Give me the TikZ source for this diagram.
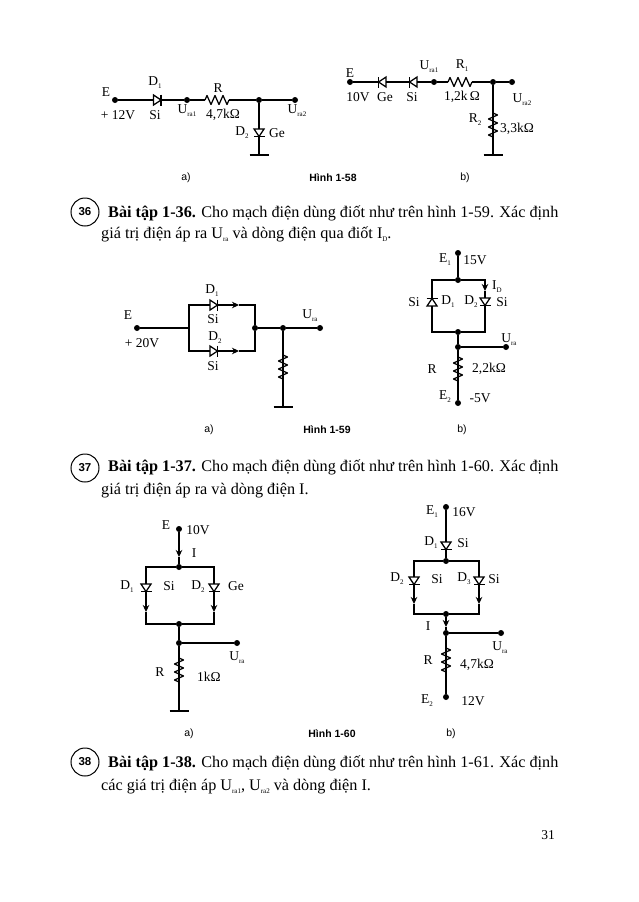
\documentclass[tikz,border=0pt]{standalone}
\usepackage{fontspec}
\setmainfont{Liberation Serif}
\setsansfont{Liberation Sans}
\usetikzlibrary{arrows.meta}
\newcommand{\sbs}[1]{\raisebox{-3pt}{\fontsize{7}{8}\selectfont #1}}
\tikzset{x=1pt,y=-1pt,
    wire/.style={line width=1.25pt},
    dotj/.style={circle,fill=black,inner sep=0pt,minimum size=6pt},
    lbl/.style={font=\fontsize{13.5}{15}\selectfont,inner sep=0pt},
    para/.style={font=\fontsize{16.2}{18}\selectfont,anchor=base west,inner sep=0pt},
    capt/.style={font=\sffamily\fontsize{10.5}{12}\selectfont,inner sep=0pt},
    numb/.style={circle,draw,line width=1pt,minimum size=28pt,inner sep=0pt,
        font=\sffamily\bfseries\fontsize{11.5}{13}\selectfont},
    tip/.style={wire,-{Stealth[length=7pt,width=6.5pt]}},
    pics/diode/.style={code={
        \coordinate (-a) at (-4,0);
        \coordinate (-k) at (4,0);
        \draw[wire] (-4,-5) -- (-4,5) -- (3.5,0) -- cycle;
        \draw[wire] (3.5,-5.5) -- (3.5,5.5);
        \draw[wire] (3.5,0) -- (4,0);}},
    pics/resist/.style={code={
        \coordinate (-a) at (-12,0);
        \coordinate (-b) at (12,0);
        \draw[wire,line join=round] (-12,0) -- (-10,-4.5) -- (-6,4.5) -- (-2,-4.5)
            -- (2,4.5) -- (6,-4.5) -- (10,4.5) -- (12,0);}},
    pics/ground/.style={code={
        \coordinate (-t) at (0,0);
        \draw[wire] (-9.5,0) -- (9.5,0);}}}
\begin{document}
\begin{tikzpicture}
    \useasboundingbox (0,0) rectangle (638,902);
    \fill[white] (0,0) rectangle (638,902);

    % Hinh 1-58 a
    \node[dotj] (pa_e) at (115,100) {};
    \pic (pa_d1) at (157.5,100) {diode};
    \node[dotj] (pa_u1) at (187,100) {};
    \pic (pa_r) at (217,100) {resist};
    \node[dotj] (pa_j) at (259,100) {};
    \node[dotj] (pa_u2) at (295,100) {};
    \pic[rotate=-90] (pa_d2) at (259,133) {diode};
    \pic (pa_g) at (259,155) {ground};
    \draw[wire] (pa_e) -- (pa_d1-a);
    \draw[wire] (pa_d1-k) -- (pa_u1);
    \draw[wire] (pa_u1) -- (pa_r-a);
    \draw[wire] (pa_r-b) -- (pa_j);
    \draw[wire] (pa_j) -- (pa_u2);
    \draw[wire] (pa_j) -- (pa_d2-a);
    \draw[wire] (pa_d2-k) -- (pa_g-t);
    \node[lbl] (pa_le) at (106,92) {E};
    \node[lbl] (pa_ld1) at (155,83) {D\sbs{1}};
    \node[lbl] (pa_lv) at (118,115) {+ 12V};
    \node[lbl] (pa_lsi) at (155,115) {Si};
    \node[lbl] (pa_lu1) at (187,111) {U\sbs{ra1}};
    \node[lbl] (pa_lr) at (218,88) {R};
    \node[lbl] (pa_lk) at (223,115) {4,7kΩ};
    \node[lbl] (pa_lu2) at (297,111) {U\sbs{ra2}};
    \node[lbl] (pa_ld2) at (242,133) {D\sbs{2}};
    \node[lbl] (pa_lge) at (277,133) {Ge};
    \node[capt] (pa_cap) at (186,178) {a)};
    \node[capt] (pa_fig) at (333,178) {\bfseries Hình 1-58};

    % Hinh 1-58 b
    \node[dotj] (pb_e) at (350,82) {};
    \pic[rotate=180] (pb_d1) at (382,82) {diode};
    \pic[rotate=180] (pb_d2) at (413,82) {diode};
    \node[dotj] (pb_u1) at (434,82) {};
    \pic (pb_r1) at (460,82) {resist};
    \node[dotj] (pb_j) at (493,82) {};
    \node[dotj] (pb_u2) at (512,82) {};
    \pic[rotate=90] (pb_r2) at (493,125) {resist};
    \pic (pb_g) at (493,155) {ground};
    \draw[wire] (pb_e) -- (pb_d1-k);
    \draw[wire] (pb_d1-a) -- (pb_d2-k);
    \draw[wire] (pb_d2-a) -- (pb_u1);
    \draw[wire] (pb_u1) -- (pb_r1-a);
    \draw[wire] (pb_r1-b) -- (pb_j);
    \draw[wire] (pb_j) -- (pb_u2);
    \draw[wire] (pb_j) -- (pb_r2-a);
    \draw[wire] (pb_r2-b) -- (pb_g-t);
    \node[lbl] (pb_le) at (350,73) {E};
    \node[lbl] (pb_lv) at (358,97) {10V};
    \node[lbl] (pb_lge) at (385,97) {Ge};
    \node[lbl] (pb_lsi) at (412,97) {Si};
    \node[lbl] (pb_lu1) at (429,67) {U\sbs{ra1}};
    \node[lbl] (pb_lr1) at (462,66) {R\sbs{1}};
    \node[lbl] (pb_lk1) at (462,97) {1,2k\,Ω};
    \node[lbl] (pb_lu2) at (522,100) {U\sbs{ra2}};
    \node[lbl] (pb_lr2) at (475,120) {R\sbs{2}};
    \node[lbl] (pb_lk2) at (517,129) {3,3kΩ};
    \node[capt] (pb_cap) at (465,178) {b)};

    % Bai tap 1-36
    \node[numb] (n_a) at (85,212) {36};
    \node[para] (t_a1) at (108,217) {\textbf{Bài tập 1-36.} Cho mạch điện dùng điốt như trên hình 1-59. Xác định};
    \node[para] (t_a2) at (101,238) {giá trị điện áp ra U\sbs{ra} và dòng điện qua điốt I\sbs{D}.};

    % Hinh 1-59 a
    \node[dotj] (qa_e) at (137,328) {};
    \coordinate (qa_l) at (189,328);
    \pic (qa_d1) at (214,305) {diode};
    \pic (qa_d2) at (214,351) {diode};
    \coordinate (qa_f1) at (239,305);
    \coordinate (qa_f2) at (239,351);
    \node[dotj] (qa_j1) at (255,328) {};
    \node[dotj] (qa_j2) at (283,328) {};
    \node[dotj] (qa_u) at (320,328) {};
    \pic[rotate=90] (qa_r) at (283,367) {resist};
    \pic (qa_g) at (283,407) {ground};
    \draw[wire] (qa_e) -- (qa_l);
    \draw[wire] (qa_l) |- (qa_d1-a);
    \draw[wire] (qa_l) |- (qa_d2-a);
    \draw[tip] (qa_d1-k) -- (qa_f1);
    \draw[tip] (qa_d2-k) -- (qa_f2);
    \draw[wire] (qa_f1) -| (qa_j1);
    \draw[wire] (qa_f2) -| (qa_j1);
    \draw[wire] (qa_j1) -- (qa_j2);
    \draw[wire] (qa_j2) -- (qa_u);
    \draw[wire] (qa_j2) -- (qa_r-a);
    \draw[wire] (qa_r-b) -- (qa_g-t);
    \node[lbl] (qa_le) at (128,315) {E};
    \node[lbl] (qa_lv) at (142,343) {+ 20V};
    \node[lbl] (qa_ld1) at (212,291) {D\sbs{1}};
    \node[lbl] (qa_ls1) at (213,319) {Si};
    \node[lbl] (qa_ld2) at (215,338) {D\sbs{2}};
    \node[lbl] (qa_ls2) at (213,366) {Si};
    \node[lbl] (qa_lu) at (310,316) {U\sbs{ra}};
    \node[capt] (qa_cap) at (209,430) {a)};
    \node[capt] (qa_fig) at (327,430) {\bfseries Hình 1-59};

    % Hinh 1-59 b
    \node[dotj] (qb_e1) at (458,253) {};
    \node[dotj] (qb_j1) at (458,280) {};
    \pic[rotate=90] (qb_d1) at (432,302) {diode};
    \pic[rotate=-90] (qb_d2) at (485,302) {diode};
    \coordinate (qb_f) at (485,291);
    \node[dotj] (qb_j2) at (458,332) {};
    \node[dotj] (qb_j3) at (458,347) {};
    \node[dotj] (qb_u) at (506,347) {};
    \pic[rotate=90] (qb_r) at (458,369) {resist};
    \node[dotj] (qb_e2) at (458,403) {};
    \draw[wire] (qb_e1) -- (qb_j1);
    \draw[wire] (qb_j1) -| (qb_d1-k);
    \draw[tip] (qb_j1) -| (qb_f);
    \draw[wire] (qb_f) -- (qb_d2-a);
    \draw[wire] (qb_d1-a) |- (qb_j2);
    \draw[wire] (qb_d2-k) |- (qb_j2);
    \draw[wire] (qb_j2) -- (qb_j3);
    \draw[wire] (qb_j3) -- (qb_u);
    \draw[wire] (qb_j3) -- (qb_r-a);
    \draw[wire] (qb_r-b) -- (qb_e2);
    \node[lbl] (qb_le1) at (445,260) {E\sbs{1}};
    \node[lbl] (qb_lv1) at (475,260) {15V};
    \node[lbl] (qb_li) at (497,287) {I\sbs{D}};
    \node[lbl] (qb_ls1) at (414,302) {Si};
    \node[lbl] (qb_ld1) at (448,302) {D\sbs{1}};
    \node[lbl] (qb_ld2) at (471,302) {D\sbs{2}};
    \node[lbl] (qb_ls2) at (502,302) {Si};
    \node[lbl] (qb_lu) at (509,340) {U\sbs{ra}};
    \node[lbl] (qb_lr) at (432,369) {R};
    \node[lbl] (qb_lk) at (489,369) {2,2kΩ};
    \node[lbl] (qb_le2) at (445,397) {E\sbs{2}};
    \node[lbl] (qb_lv2) at (480,398) {-5V};
    \node[capt] (qb_cap) at (462,430) {b)};

    % Bai tap 1-37
    \node[numb] (n_b) at (85,468) {37};
    \node[para] (t_b1) at (108,471) {\textbf{Bài tập 1-37.} Cho mạch điện dùng điốt như trên hình 1-60. Xác định};
    \node[para] (t_b2) at (101,494) {giá trị điện áp ra và dòng điện I.};

    % Hinh 1-60 a
    \node[dotj] (ra_e) at (179,529) {};
    \coordinate (ra_f) at (179,557);
    \node[dotj] (ra_j1) at (179,567) {};
    \pic[rotate=-90] (ra_d1) at (146,588) {diode};
    \pic[rotate=-90] (ra_d2) at (214,588) {diode};
    \coordinate (ra_f1) at (146,612);
    \coordinate (ra_f2) at (214,612);
    \node[dotj] (ra_j2) at (179,624) {};
    \node[dotj] (ra_j3) at (179,643) {};
    \node[dotj] (ra_u) at (237,643) {};
    \pic[rotate=90] (ra_r) at (179,670) {resist};
    \pic (ra_g) at (179,711) {ground};
    \draw[tip] (ra_e) -- (ra_f);
    \draw[wire] (ra_f) -- (ra_j1);
    \draw[wire] (ra_j1) -| (ra_d1-a);
    \draw[wire] (ra_j1) -| (ra_d2-a);
    \draw[tip] (ra_d1-k) -- (ra_f1);
    \draw[tip] (ra_d2-k) -- (ra_f2);
    \draw[wire] (ra_f1) |- (ra_j2);
    \draw[wire] (ra_f2) |- (ra_j2);
    \draw[wire] (ra_j2) -- (ra_j3);
    \draw[wire] (ra_j3) -- (ra_u);
    \draw[wire] (ra_j3) -- (ra_r-a);
    \draw[wire] (ra_r-b) -- (ra_g-t);
    \node[lbl] (ra_le) at (166,525) {E};
    \node[lbl] (ra_lv) at (198,530) {10V};
    \node[lbl] (ra_li) at (194,553) {I};
    \node[lbl] (ra_ld1) at (127,587) {D\sbs{1}};
    \node[lbl] (ra_ls) at (169,586) {Si};
    \node[lbl] (ra_ld2) at (198,587) {D\sbs{2}};
    \node[lbl] (ra_lge) at (236,586) {Ge};
    \node[lbl] (ra_lu) at (237,658) {U\sbs{ra}};
    \node[lbl] (ra_lr) at (160,672) {R};
    \node[lbl] (ra_lk) at (209,677) {1kΩ};
    \node[capt] (ra_cap) at (189,734) {a)};
    \node[capt] (ra_fig) at (332,734) {\bfseries Hình 1-60};

    % Hinh 1-60 b
    \node[dotj] (rb_e1) at (446,507) {};
    \pic[rotate=-90] (rb_d1) at (446,546) {diode};
    \node[dotj] (rb_j1) at (446,561) {};
    \pic[rotate=-90] (rb_d2) at (414,581) {diode};
    \pic[rotate=-90] (rb_d3) at (479,581) {diode};
    \coordinate (rb_f2) at (414,604);
    \coordinate (rb_f3) at (479,604);
    \node[dotj] (rb_j2) at (446,614) {};
    \coordinate (rb_f) at (446,627);
    \node[dotj] (rb_j3) at (446,633) {};
    \node[dotj] (rb_u) at (501,633) {};
    \pic[rotate=90] (rb_r) at (446,660) {resist};
    \node[dotj] (rb_e2) at (446,697) {};
    \draw[wire] (rb_e1) -- (rb_d1-a);
    \draw[wire] (rb_d1-k) -- (rb_j1);
    \draw[wire] (rb_j1) -| (rb_d2-a);
    \draw[wire] (rb_j1) -| (rb_d3-a);
    \draw[tip] (rb_d2-k) -- (rb_f2);
    \draw[tip] (rb_d3-k) -- (rb_f3);
    \draw[wire] (rb_f2) |- (rb_j2);
    \draw[wire] (rb_f3) |- (rb_j2);
    \draw[tip] (rb_j2) -- (rb_f);
    \draw[wire] (rb_f) -- (rb_j3);
    \draw[wire] (rb_j3) -- (rb_u);
    \draw[wire] (rb_j3) -- (rb_r-a);
    \draw[wire] (rb_r-b) -- (rb_e2);
    \node[lbl] (rb_le1) at (432,512) {E\sbs{1}};
    \node[lbl] (rb_lv1) at (464,512) {16V};
    \node[lbl] (rb_ld1) at (431,543) {D\sbs{1}};
    \node[lbl] (rb_ls1) at (463,543) {Si};
    \node[lbl] (rb_ld2) at (397,579) {D\sbs{2}};
    \node[lbl] (rb_ls2) at (437,579) {Si};
    \node[lbl] (rb_ld3) at (464,579) {D\sbs{3}};
    \node[lbl] (rb_ls3) at (494,579) {Si};
    \node[lbl] (rb_li) at (428,626) {I};
    \node[lbl] (rb_lu) at (500,648) {U\sbs{ra}};
    \node[lbl] (rb_lr) at (428,660) {R};
    \node[lbl] (rb_lk) at (477,665) {4,7kΩ};
    \node[lbl] (rb_le2) at (427,701) {E\sbs{2}};
    \node[lbl] (rb_lv2) at (473,701) {12V};
    \node[capt] (rb_cap) at (451,734) {b)};

    % Bai tap 1-38
    \node[numb] (n_c) at (85,762) {38};
    \node[para] (t_c1) at (108,767) {\textbf{Bài tập 1-38.} Cho mạch điện dùng điốt như trên hình 1-61. Xác định};
    \node[para] (t_c2) at (101,790) {các giá trị điện áp U\sbs{ra1}, U\sbs{ra2} và dòng điện I.};
    \node[lbl] (t_page) at (548,835) {31};
\end{tikzpicture}
\end{document}
